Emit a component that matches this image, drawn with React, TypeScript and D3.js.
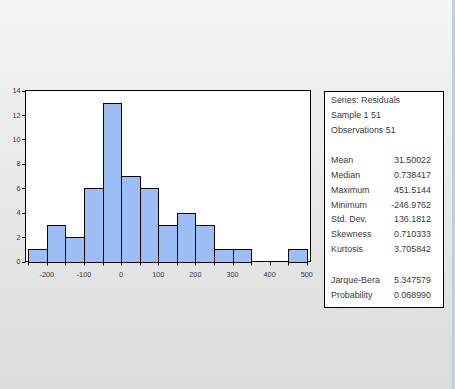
import React from "react";
import * as d3 from "d3";

const binStarts = [-250, -200, -150, -100, -50, 0, 50, 100, 150, 200, 250, 300, 350, 400, 450];
const binCounts = [1, 3, 2, 6, 13, 7, 6, 3, 4, 3, 1, 1, 0, 0, 1];
const binWidth = 50;
const xTickLabels = [-200, -100, 0, 100, 200, 300, 400, 500];
const yTicks = [0, 2, 4, 6, 8, 10, 12, 14];
const statsHeader = ["Series: Residuals", "Sample 1 51", "Observations 51"];
const statNames = ["Mean", "Median", "Maximum", "Minimum", "Std. Dev.", "Skewness", "Kurtosis"];
const statValues = ["31.50022", "0.738417", "451.5144", "-246.9762", "136.1812", "0.710333", "3.705842"];
const testNames = ["Jarque-Bera", "Probability"];
const testValues = ["5.347579", "0.068990"];

const W = 455;
const H = 389;
const plot = { left: 25.5, right: 310.5, top: 90.5, bottom: 261.5 };

export default function App() {
  const x = d3.scaleLinear().domain([-257.5, 510]).range([plot.left, plot.right]);
  const y = d3.scaleLinear().domain([0, 14]).range([plot.bottom, plot.top]);
  const xTicks = d3.range(-250, 501, 50);
  const font = "'Liberation Sans', Arial, sans-serif";
  const textColor = "#3a3a3a";
  const box = { left: 324.5, right: 443.5, top: 91.5, bottom: 307.5 };
  const fs = 8.9;

  return (
    <svg width={W} height={H} style={{ position: "absolute", left: 0, top: 0 }} fontFamily={font}>
      <defs>
        <linearGradient id="bg" x1="0" y1="0" x2="0" y2="1">
          <stop offset="0" stopColor="#f4f4f4" />
          <stop offset="1" stopColor="#dcdcdc" />
        </linearGradient>
      </defs>
      <rect x={0} y={0} width={W} height={H} fill="url(#bg)" />
      <rect x={452} y={0} width={3} height={H} fill="#b9d0ea" />

      {/* plot area */}
      <rect x={plot.left} y={plot.top} width={plot.right - plot.left} height={plot.bottom - plot.top} fill="#ffffff" stroke="#000" strokeWidth={1} />

      {binStarts.map((s, i) =>
        binCounts[i] > 0 ? (
          <rect
            key={s}
            x={Math.round(x(s)) + 0.5}
            y={Math.round(y(binCounts[i])) + 0.5}
            width={Math.round(x(s + binWidth)) - Math.round(x(s))}
            height={Math.round(y(0)) - Math.round(y(binCounts[i]))}
            fill="#9dbdf6"
            stroke="#000"
            strokeWidth={1}
          />
        ) : null
      )}

      {/* y axis */}
      {yTicks.map((t) => (
        <g key={t}>
          <line x1={plot.left - 3.5} x2={plot.left} y1={Math.round(y(t)) + 0.5} y2={Math.round(y(t)) + 0.5} stroke="#000" />
          <text x={plot.left - 5} y={y(t) + 2.6} fontSize={7.3} textAnchor="end" fill={textColor}>
            {t}
          </text>
        </g>
      ))}

      {/* x axis */}
      {xTicks.map((t) => (
        <line key={t} x1={Math.round(x(t)) + 0.5} x2={Math.round(x(t)) + 0.5} y1={plot.bottom} y2={plot.bottom + 4} stroke="#000" />
      ))}
      {xTickLabels.map((t) => (
        <text key={t} x={x(t)} y={277} fontSize={7.3} textAnchor="middle" fill={textColor}>
          {t}
        </text>
      ))}

      {/* stats box */}
      <rect x={box.left} y={box.top} width={box.right - box.left} height={box.bottom - box.top} fill="#ffffff" stroke="#000" strokeWidth={1} />
      {statsHeader.map((s, i) => (
        <text key={s} x={331} y={103.2 + i * 14.9} fontSize={fs} fill={textColor}>
          {s}
        </text>
      ))}
      {statNames.map((s, i) => (
        <g key={s}>
          <text x={331} y={162.8 + i * 14.9} fontSize={fs} fill={textColor}>
            {s}
          </text>
          <text x={431} y={162.8 + i * 14.9} fontSize={fs} textAnchor="end" fill={textColor}>
            {statValues[i]}
          </text>
        </g>
      ))}
      {testNames.map((s, i) => (
        <g key={s}>
          <text x={331} y={283.1 + i * 14.9} fontSize={fs} fill={textColor}>
            {s}
          </text>
          <text x={431} y={283.1 + i * 14.9} fontSize={fs} textAnchor="end" fill={textColor}>
            {testValues[i]}
          </text>
        </g>
      ))}
    </svg>
  );
}
